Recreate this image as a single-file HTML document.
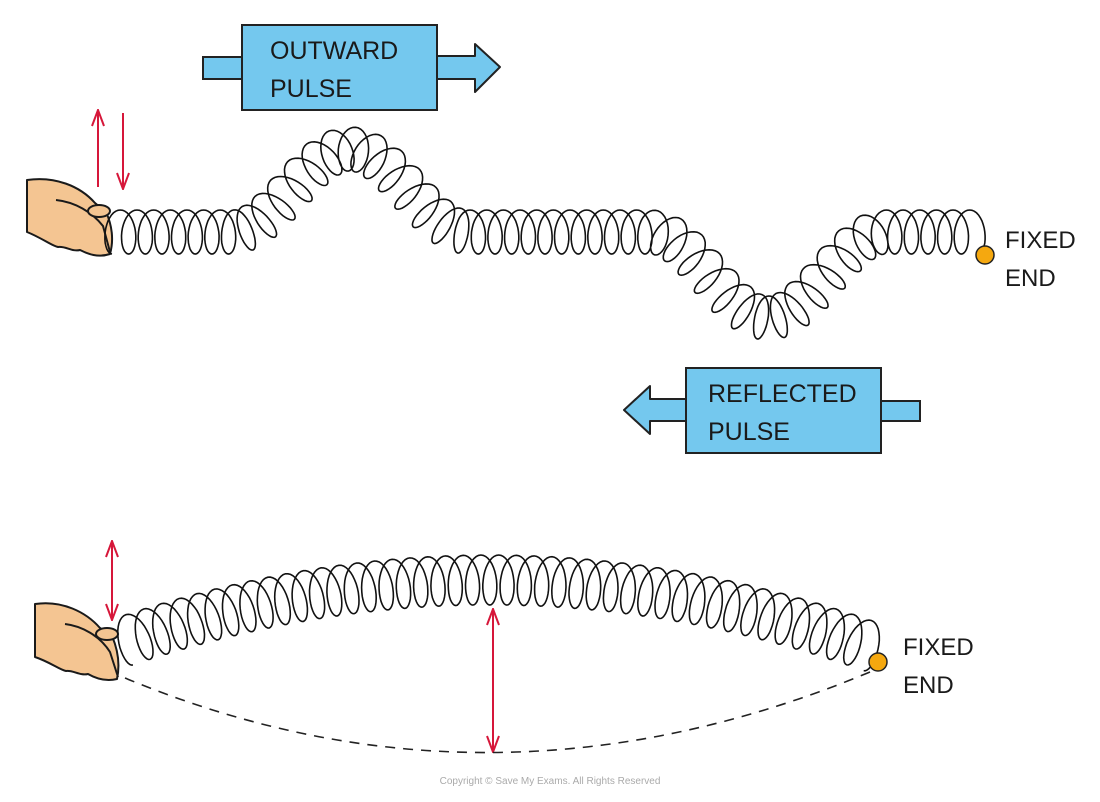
<!DOCTYPE html>
<html><head><meta charset="utf-8"><style>
html,body{margin:0;padding:0;background:#fff;}
svg{display:block;}
text{font-family:"Liberation Sans","DejaVu Sans",sans-serif;fill:#1a1a1a;}
</style></head><body>
<svg id="s" width="1100" height="802" viewBox="0 0 1100 802" xmlns="http://www.w3.org/2000/svg">
<defs>
<marker id="ah" viewBox="0 0 18 18" refX="17" refY="9" markerWidth="18" markerHeight="18" orient="auto-start-reverse" markerUnits="userSpaceOnUse">
<path d="M1,3 L17,9 L1,15" fill="none" stroke="#d6173a" stroke-width="2"/>
</marker>
</defs>
<!-- outward pulse -->
<path d="M203,57 H243 V79 H203 Z" fill="#74c8ee" stroke="#222" stroke-width="2"/>
<path d="M436,56 H475 V44 L500,67 L475,92 V79 H436 Z" fill="#74c8ee" stroke="#222" stroke-width="2" stroke-linejoin="round"/>
<rect x="242" y="25" width="195" height="85" fill="#74c8ee" stroke="#222" stroke-width="2"/>
<text x="270" y="59" font-size="25">OUTWARD</text>
<text x="270" y="97" font-size="25">PULSE</text>
<!-- reflected pulse -->
<path d="M880,401 H920 V421 H880 Z" fill="#74c8ee" stroke="#222" stroke-width="2"/>
<path d="M687,399 H650 V386 L624,410 L650,434 V421 H687 Z" fill="#74c8ee" stroke="#222" stroke-width="2" stroke-linejoin="round"/>
<rect x="686" y="368" width="195" height="85" fill="#74c8ee" stroke="#222" stroke-width="2"/>
<text x="708" y="402" font-size="25">REFLECTED</text>
<text x="708" y="440" font-size="25">PULSE</text>
<!-- red arrows -->
<line x1="98" y1="187" x2="98" y2="110" stroke="#d6173a" stroke-width="2" marker-end="url(#ah)"/>
<line x1="123" y1="113" x2="123" y2="189" stroke="#d6173a" stroke-width="2" marker-end="url(#ah)"/>
<line x1="112" y1="541" x2="112" y2="620" stroke="#d6173a" stroke-width="2" marker-start="url(#ah)" marker-end="url(#ah)"/>
<line x1="493" y1="609" x2="493" y2="752" stroke="#d6173a" stroke-width="2" marker-start="url(#ah)" marker-end="url(#ah)"/>
<!-- dashed -->
<path d="M125,678 Q490,830 870,672" fill="none" stroke="#222" stroke-width="1.6" stroke-dasharray="10,8"/>
<!-- hands -->
<g stroke="#1a1a1a" stroke-width="2" fill="#f4c592" stroke-linejoin="round">
<path d="M27,180 C55,176 80,186 95,203 L106,212 C112,225 114,240 110,254 C98,258 88,254 80,250 C72,252 66,246 58,247 C52,246 42,238 27,232 Z"/>
<path d="M56,200 C75,202 92,212 103,226 L110,252" fill="none"/>
<ellipse cx="99" cy="211" rx="11" ry="6"/>
<path d="M35,604 C62,600 86,612 100,628 L112,636 C118,650 120,665 117,679 C105,682 95,678 88,674 C80,676 73,670 66,671 C60,670 50,662 35,657 Z"/>
<path d="M65,624 C82,626 100,636 110,652 L118,677" fill="none"/>
<ellipse cx="107" cy="634" rx="11" ry="6"/>
</g>
<g id="springs" fill="none" stroke="#111" stroke-width="1.6"></g>
<!-- fixed ends -->
<circle cx="985" cy="255" r="9" fill="#f5a80f" stroke="#222" stroke-width="1.5"/>
<circle cx="878" cy="662" r="9" fill="#f5a80f" stroke="#222" stroke-width="1.5"/>
<text x="1005" y="248" font-size="24">FIXED</text>
<text x="1005" y="286" font-size="24">END</text>
<text x="903" y="655" font-size="24">FIXED</text>
<text x="903" y="693" font-size="24">END</text>
<text x="550" y="784" font-size="10" text-anchor="middle" style="fill:#aaa">Copyright © Save My Exams. All Rights Reserved</text>
</svg>
<script>
function bump(x,c,h){var d=Math.abs(x-c);return d<h?(1+Math.cos(Math.PI*d/h))/2:0;}
function spring(f,x0,x1,pitch,a,b){
  var n=Math.round((x1-x0)/pitch),p=(x1-x0)/n,pts=[],steps=n*36;
  for(var i=0;i<=steps;i++){
    var th=2*Math.PI*i/36,x=x0+p*i/36,y=f(x);
    var dy=(f(x+0.5)-f(x-0.5)),len=Math.sqrt(1+dy*dy),tx=1/len,ty=dy/len,nx=ty,ny=-tx;
    var o=-b*Math.cos(th),t=-a*Math.sin(th);
    pts.push((x+nx*o+tx*t).toFixed(1)+","+(y+ny*o+ty*t).toFixed(1));
  }
  return "M"+pts.join(" L");
}
var g=document.getElementById("springs");
function add(d){var e=document.createElementNS("http://www.w3.org/2000/svg","path");e.setAttribute("d",d);g.appendChild(e);}
add(spring(function(x){return 232-83*bump(x,350,118)+86*bump(x,768,118);},112,978,16.5,11,22));
add(spring(function(x){var u=(x-490)/370;return 580+63*u*u;},125,872,17.4,11,25));
</script>
</body></html>
